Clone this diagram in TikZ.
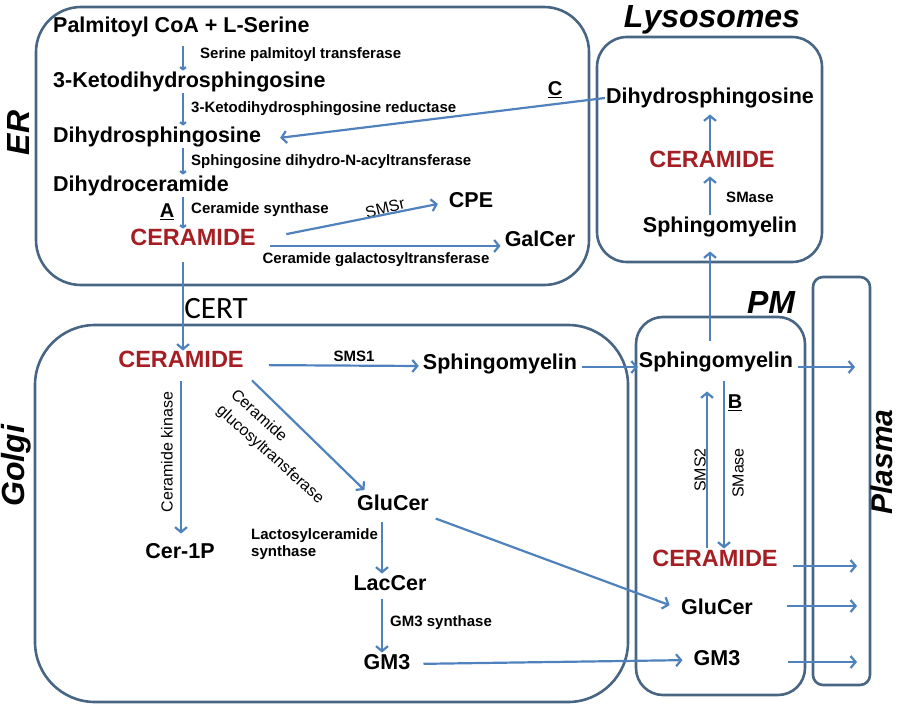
\documentclass[tikz,border=0pt]{standalone}
\usepackage{fontspec}
\setmainfont{Liberation Sans}
\newfontfamily\certfont{Carlito}
\usetikzlibrary{arrows.meta}
\definecolor{cA}{RGB}{79,129,189}
\definecolor{cM}{RGB}{72,102,132}
\definecolor{cR}{RGB}{165,30,35}
\tikzset{mymet/.style={
  font=\bfseries\fontsize{21.5}{24}\selectfont,
  inner sep=1pt,
  text height=16pt,
  text depth=4.5pt,
  }
}
\tikzset{mycer/.style={
  mymet,
  font=\bfseries\fontsize{23.5}{26}\selectfont,
  text=cR,
  }
}
\tikzset{myenz/.style={
  font=\bfseries\fontsize{15}{17}\selectfont,
  inner sep=1pt,
  }
}
\tikzset{myenzr/.style={
  font=\fontsize{16}{21}\selectfont,
  inner sep=1pt,
  }
}
\tikzset{mymark/.style={
  font=\bfseries\fontsize{20}{22}\selectfont,
  inner sep=1pt,
  }
}
\tikzset{myorg/.style={
  font=\bfseries\itshape\fontsize{32}{36}\selectfont,
  inner sep=1pt,
  }
}
\tikzset{mycert/.style={
  font=\certfont\fontsize{31}{34}\selectfont,
  inner sep=1pt,
  }
}
\tikzset{mybox/.style={
  draw=cM,
  line width=2.6pt,
  }
}
\tikzset{myarrow/.style={
  draw=cA,
  line width=2.2pt,
  -{Straight Barb[length=5pt,width=12pt]},
  }
}
\tikzset{myarrowS/.style={
  draw=cA,
  line width=2.2pt,
  -{Straight Barb[length=2pt,width=6pt]},
  }
}

\begin{document}
\begin{tikzpicture}[x=1pt,y=-1pt]
  \useasboundingbox (0,0) rectangle (899,709);

  % compartments
  \draw[mybox, rounded corners=45pt] (36,7) rectangle (589,285);
  \draw[mybox, rounded corners=30pt] (597,37) rectangle (822,262);
  \draw[mybox, rounded corners=60pt] (35,325) rectangle (628,702);
  \draw[mybox, rounded corners=27pt] (636,317) rectangle (805,695);
  \draw[mybox, rounded corners=10pt] (813,277) rectangle (870,685);

  \node[myorg, rotate=90] (erlab) at (18,133) {ER};
  \node[myorg] (lyslab) at (712,20) {Lysosomes};
  \node[myorg, rotate=90] (golgilab) at (16,466) {Golgi};
  \node[myorg] (pmlab) at (771,302) {PM};
  \node[myorg, rotate=90, font=\bfseries\itshape\fontsize{30}{34}\selectfont] (plasmalab) at (882,462) {Plasma};

  % ER
  \coordinate (erx) at (183,0);
  \node[mymet, anchor=west] (palm) at (52,27) {Palmitoyl CoA + L-Serine};
  \node[mymet, anchor=west] (keto) at (52,82) {3-Ketodihydrosphingosine};
  \node[mymet, anchor=west] (dhs) at (52,137) {Dihydrosphingosine};
  \node[mymet, anchor=west] (dhc) at (52,186) {Dihydroceramide};
  \node[mycer] (cerER) at (193,240) {CERAMIDE};
  \node[mymet] (cpe) at (471,202) {CPE};
  \node[mymet] (galcer) at (540,241) {GalCer};
  \node[myenz, anchor=west] (spt) at (199,55) {Serine palmitoyl transferase};
  \node[myenz, anchor=west] (kdsr) at (190,109) {3-Ketodihydrosphingosine reductase};
  \node[myenz, anchor=west] (dhcers) at (190,162) {Sphingosine dihydro-N-acyltransferase};
  \node[myenz, anchor=west] (cers) at (190,210) {Ceramide synthase};
  \node[myenz] (galt) at (376,260) {Ceramide galactosyltransferase};
  \node[myenzr, rotate=14] (smsr) at (385,208) {SMSr};
  \node[mymark] (markA) at (167,212) {\underline{A}};
  \node[mymark] (markC) at (555,90) {\underline{C}};

  \draw[myarrowS, shorten <=8pt] (palm.south -| erx) -- (keto.north -| erx);
  \draw[myarrowS] (keto.south -| erx) -- (dhs.north -| erx);
  \draw[myarrowS] (dhs.south -| erx) -- (dhc.north -| erx);
  \draw[myarrowS] (dhc.south -| erx) -- (cerER.north -| erx);
  \draw[myarrow, shorten <=30pt, shorten >=10pt] (cerER.east) -- (cpe.west);
  \draw[myarrow, shorten <=13pt, shorten >=3pt] ([yshift=-6pt]cerER.east) -- ([yshift=-5pt]galcer.west);

  % Lysosomes
  \node[mymet] (dhsL) at (710,98) {Dihydrosphingosine};
  \node[mycer] (cerL) at (712,162) {CERAMIDE};
  \node[mymet] (smL) at (720,227) {Sphingomyelin};
  \node[myenz] (smaseL) at (750,197) {SMase};
  \coordinate (lx) at (710,0);
  \draw[myarrow, shorten >=5pt] (cerL.north -| lx) -- (dhsL.south -| lx);
  \draw[myarrow, shorten <=1pt, shorten >=3pt] (smL.north -| lx) -- (cerL.south -| lx);
  \draw[myarrow, shorten >=18pt] (dhsL.west) -- ([yshift=-3pt]dhs.east);

  % Golgi
  \node[mycer] (cerG) at (181,362) {CERAMIDE};
  \node[mymet] (smG) at (500,364) {Sphingomyelin};
  \node[mymet] (c1p) at (180,553) {Cer-1P};
  \node[mymet] (glcG) at (393,505) {GluCer};
  \node[mymet] (lacG) at (390,585) {LacCer};
  \node[mymet] (gm3G) at (387,664) {GM3};
  \node[myenz] (sms1) at (354,356) {SMS1};
  \node[myenzr, rotate=90] (cerk) at (167,452) {Ceramide kinase};
  \node[myenzr, rotate=-42, align=left] (ugcg) at (277,447) {Ceramide\\glucosyltransferase};
  \node[myenz, anchor=west, align=left] (lcs) at (250,544) {Lactosylceramide\\synthase};
  \node[myenz, anchor=west] (gm3s) at (389,623) {GM3 synthase};
  \node[mycert] (cert) at (216,309) {CERT};

  \draw[myarrow, shorten <=11pt] (cerER.south -| erx) -- (cerG.north -| erx);
  \draw[myarrow, shorten <=24pt, shorten >=3pt] ([yshift=-3pt]cerG.east) -- ([yshift=-2pt]smG.west);
  \draw[myarrow, shorten <=8pt, shorten >=8pt] (cerG.south) -- (cerG.south |- c1p.north);
  \draw[myarrow, shorten <=10pt, shorten >=5pt] (cerG.south east) -- ([xshift=-25pt]glcG.north);
  \coordinate (gx) at (382,0);
  \draw[myarrow, shorten <=6pt] (glcG.south -| gx) -- (lacG.north -| gx);
  \draw[myarrow, shorten <=3pt] (lacG.south -| gx) -- (gm3G.north -| gx);

  % PM
  \node[mymet] (smP) at (716,362) {Sphingomyelin};
  \node[mycer] (cerP) at (715,561) {CERAMIDE};
  \node[mymet] (glcP) at (717,609) {GluCer};
  \node[mymet] (gm3P) at (717,660) {GM3};
  \node[myenzr, rotate=90] (sms2) at (700,470) {SMS2};
  \node[myenzr, rotate=90] (smaseP) at (738,473) {SMase};
  \node[mymark] (markB) at (735,403) {\underline{B}};
  \coordinate (px1) at (707,0);
  \coordinate (px2) at (724,0);
  \draw[myarrow, shorten <=2pt, shorten >=18pt] (cerP.north -| px1) -- (smP.south -| px1);
  \draw[myarrow, shorten <=8pt, shorten >=1pt] (smP.south -| px2) -- (cerP.north -| px2);
  \draw[myarrow, shorten <=10pt, shorten >=13pt] (smP.north -| lx) -- (smL.south -| lx);
  \draw[myarrow, shorten <=4pt] ([yshift=-3pt]smG.east) -- ([yshift=-5pt]smP.west);
  \draw[myarrow, shorten <=6pt, shorten >=11pt] (glcG.south east) -- (glcP.west);
  \draw[myarrow, shorten <=12pt, shorten >=10pt] (gm3G.east) -- (gm3P.west);

  % Plasma
  \coordinate (outSM) at (855,367);
  \coordinate (outCER) at (857,566);
  \coordinate (outGLC) at (857,606);
  \coordinate (outGM3) at (857,662);
  \draw[myarrow, shorten <=4pt] ([yshift=-5pt]smP.east) -- (outSM);
  \draw[myarrow, shorten <=14pt] ([yshift=-5pt]cerP.east) -- (outCER);
  \draw[myarrow, shorten <=33pt] ([yshift=3pt]glcP.east) -- (outGLC);
  \draw[myarrow, shorten <=46pt] ([yshift=-2pt]gm3P.east) -- (outGM3);
\end{tikzpicture}
\end{document}
